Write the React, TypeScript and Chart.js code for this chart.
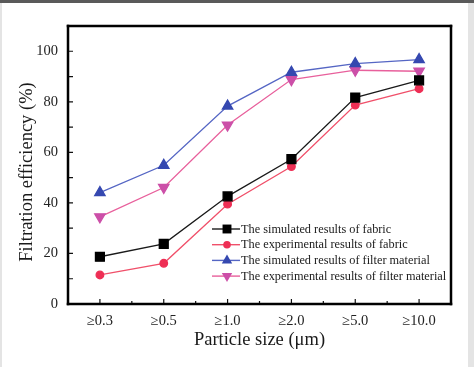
import React, { useEffect, useRef } from 'react';
import { Chart, registerables } from 'chart.js';

Chart.register(...registerables);

const categories = ['≥0.3', '≥0.5', '≥1.0', '≥2.0', '≥5.0', '≥10.0'];
const simulatedFabric = [18.7, 23.8, 42.6, 57.3, 81.7, 88.5];
const experimentalFabric = [11.5, 16.1, 39.5, 54.4, 78.7, 85.2];
const simulatedFilter = [44.1, 54.9, 78.3, 91.7, 95.1, 96.7];
const experimentalFilter = [34.5, 46.1, 70.8, 88.8, 92.5, 92.1];
const yTickValues = [0, 20, 40, 60, 80, 100];
const seriesLabels = [
  'The simulated results of fabric',
  'The experimental results of fabric',
  'The simulated results of filter material',
  'The experimental results of filter material',
];
const xTitle = 'Particle size (μm)';
const yTitle = 'Filtration efficiency (%)';

const SERIF = '"Liberation Serif", "DejaVu Serif", serif';

function drawMarker(ctx: CanvasRenderingContext2D, style: string, x: number, y: number, r: number, rotation: number, color: string) {
  ctx.save();
  ctx.fillStyle = color;
  ctx.beginPath();
  if (style === 'rect') {
    const s = Math.SQRT1_2 * r;
    ctx.rect(x - s, y - s, 2 * s, 2 * s);
  } else if (style === 'circle') {
    ctx.arc(x, y, r, 0, Math.PI * 2);
  } else {
    const rad = (rotation * Math.PI) / 180;
    for (let k = 0; k < 3; k++) {
      const a = rad - Math.PI / 2 + (k * 2 * Math.PI) / 3;
      const px = x + Math.cos(a) * r;
      const py = y + Math.sin(a) * r;
      if (k === 0) ctx.moveTo(px, py);
      else ctx.lineTo(px, py);
    }
    ctx.closePath();
  }
  ctx.fill();
  ctx.restore();
}

const decorPlugin = {
  id: 'decor',
  beforeDraw(chart: any) {
    const { ctx, width, height } = chart;
    ctx.save();
    ctx.fillStyle = '#ffffff';
    ctx.fillRect(0, 0, width, height);
    ctx.fillStyle = '#e4e4e4';
    ctx.fillRect(0, 0, 2, height);
    ctx.fillRect(width - 6, 0, 6, height);
    ctx.fillStyle = '#5a5a5a';
    ctx.fillRect(0, 0, width, 3);
    ctx.restore();
  },
  afterDraw(chart: any) {
    const { ctx, chartArea } = chart;
    const xs = chart.scales.x;
    const ys = chart.scales.y;
    const L = chartArea.left;
    const R = chartArea.right;
    const T = chartArea.top;
    const B = chartArea.bottom;
    ctx.save();
    // inward ticks
    ctx.strokeStyle = '#111';
    ctx.lineWidth = 1.2;
    ctx.beginPath();
    for (let v = 0; v <= 100; v += 10) {
      const py = ys.getPixelForValue(v);
      ctx.moveTo(L, py);
      ctx.lineTo(L + 5, py);
    }
    for (let i = 0; i < categories.length; i++) {
      const px = xs.getPixelForValue(i);
      ctx.moveTo(px, B);
      ctx.lineTo(px, B - 5);
      if (i < categories.length - 1) {
        const mx = (px + xs.getPixelForValue(i + 1)) / 2;
        ctx.moveTo(mx, B);
        ctx.lineTo(mx, B - 3);
      }
    }
    ctx.stroke();
    // frame
    const w = 2.5;
    ctx.fillStyle = '#000000';
    ctx.fillRect(L - w / 2, T - w / 2, R - L + w, w);
    ctx.fillRect(L - w / 2, B - w / 2, R - L + w, w);
    ctx.fillRect(L - w / 2, T - w / 2, w, B - T + w);
    ctx.fillRect(R - w / 2, T - w / 2, w, B - T + w);
    ctx.restore();

    // y title
    ctx.save();
    ctx.fillStyle = '#1a1a1a';
    ctx.font = `18.5px ${SERIF}`;
    ctx.textAlign = 'center';
    ctx.textBaseline = 'middle';
    ctx.translate(27, (T + B) / 2 + 7);
    ctx.rotate(-Math.PI / 2);
    ctx.fillText(yTitle, 0, 0);
    ctx.restore();

    // legend
    ctx.save();
    const lx = L + 144;
    const ly = T + 203;
    ctx.font = `12.3px ${SERIF}`;
    ctx.textAlign = 'left';
    ctx.textBaseline = 'middle';
    chart.data.datasets.forEach((ds: any, i: number) => {
      const y = ly + i * 15.7;
      ctx.strokeStyle = ds.borderColor;
      ctx.lineWidth = 1.4;
      ctx.beginPath();
      ctx.moveTo(lx, y);
      ctx.lineTo(lx + 28, y);
      ctx.stroke();
      drawMarker(ctx, ds.pointStyle, lx + 15, y, ds.pointRadius, ds.pointRotation || 0, ds.pointBackgroundColor);
      ctx.fillStyle = '#1a1a1a';
      ctx.fillText(ds.label, lx + 29, y + 0.5);
    });
    ctx.restore();
  },
};

export default function App() {
  const ref = useRef<HTMLCanvasElement>(null);
  useEffect(() => {
    if (!ref.current) return;
    const chart = new Chart(ref.current, {
      type: 'line',
      data: {
        labels: categories,
        datasets: [
          {
            label: seriesLabels[0],
            data: simulatedFabric,
            borderColor: '#1a1a1a',
            backgroundColor: '#000',
            pointBackgroundColor: '#000',
            pointBorderColor: '#000',
            pointStyle: 'rect',
            pointRadius: 6.3,
            borderWidth: 1.3,
          },
          {
            label: seriesLabels[1],
            data: experimentalFabric,
            borderColor: '#f0506a',
            backgroundColor: '#ee2f55',
            pointBackgroundColor: '#ee2f55',
            pointBorderColor: '#ee2f55',
            pointStyle: 'circle',
            pointRadius: 3.8,
            borderWidth: 1.3,
          },
          {
            label: seriesLabels[2],
            data: simulatedFilter,
            borderColor: '#5566c4',
            backgroundColor: '#3548b0',
            pointBackgroundColor: '#3548b0',
            pointBorderColor: '#3548b0',
            pointStyle: 'triangle',
            pointRadius: 6,
            borderWidth: 1.3,
          },
          {
            label: seriesLabels[3],
            data: experimentalFilter,
            borderColor: '#e8609c',
            backgroundColor: '#cc4fa8',
            pointBackgroundColor: '#cc4fa8',
            pointBorderColor: '#cc4fa8',
            pointStyle: 'triangle',
            pointRotation: 180,
            pointRadius: 6,
            borderWidth: 1.3,
          },
        ] as any,
      },
      options: {
        animation: false,
        responsive: false,
        devicePixelRatio: 1,
        layout: { padding: { top: 26, right: 23, left: 0, bottom: 0 } },
        plugins: { legend: { display: false }, tooltip: { enabled: false } },
        scales: {
          x: {
            offset: true,
            grid: { display: false, drawTicks: false },
            border: { display: false },
            ticks: { font: { family: SERIF, size: 14.5 }, color: '#222', padding: 8, maxRotation: 0 },
            title: { display: true, text: xTitle, font: { family: SERIF, size: 18.5 }, color: '#1a1a1a', padding: { top: 0, bottom: 16 } },
            afterFit: (s: any) => { s.height = 63; },
          },
          y: {
            min: 0,
            max: 110,
            grid: { display: false, drawTicks: false },
            border: { display: false },
            ticks: { font: { family: SERIF, size: 14.5 }, color: '#222', padding: 10 },
            afterBuildTicks: (s: any) => { s.ticks = yTickValues.map((v) => ({ value: v })); },
            afterFit: (s: any) => { s.width = 68; },
          },
        },
      },
      plugins: [decorPlugin],
    });
    return () => chart.destroy();
  }, []);
  return (
    <div style={{ position: 'fixed', left: 0, top: 0, width: 474, height: 367 }}>
      <canvas ref={ref} width={474} height={367} style={{ width: 474, height: 367, display: 'block' }} />
    </div>
  );
}
